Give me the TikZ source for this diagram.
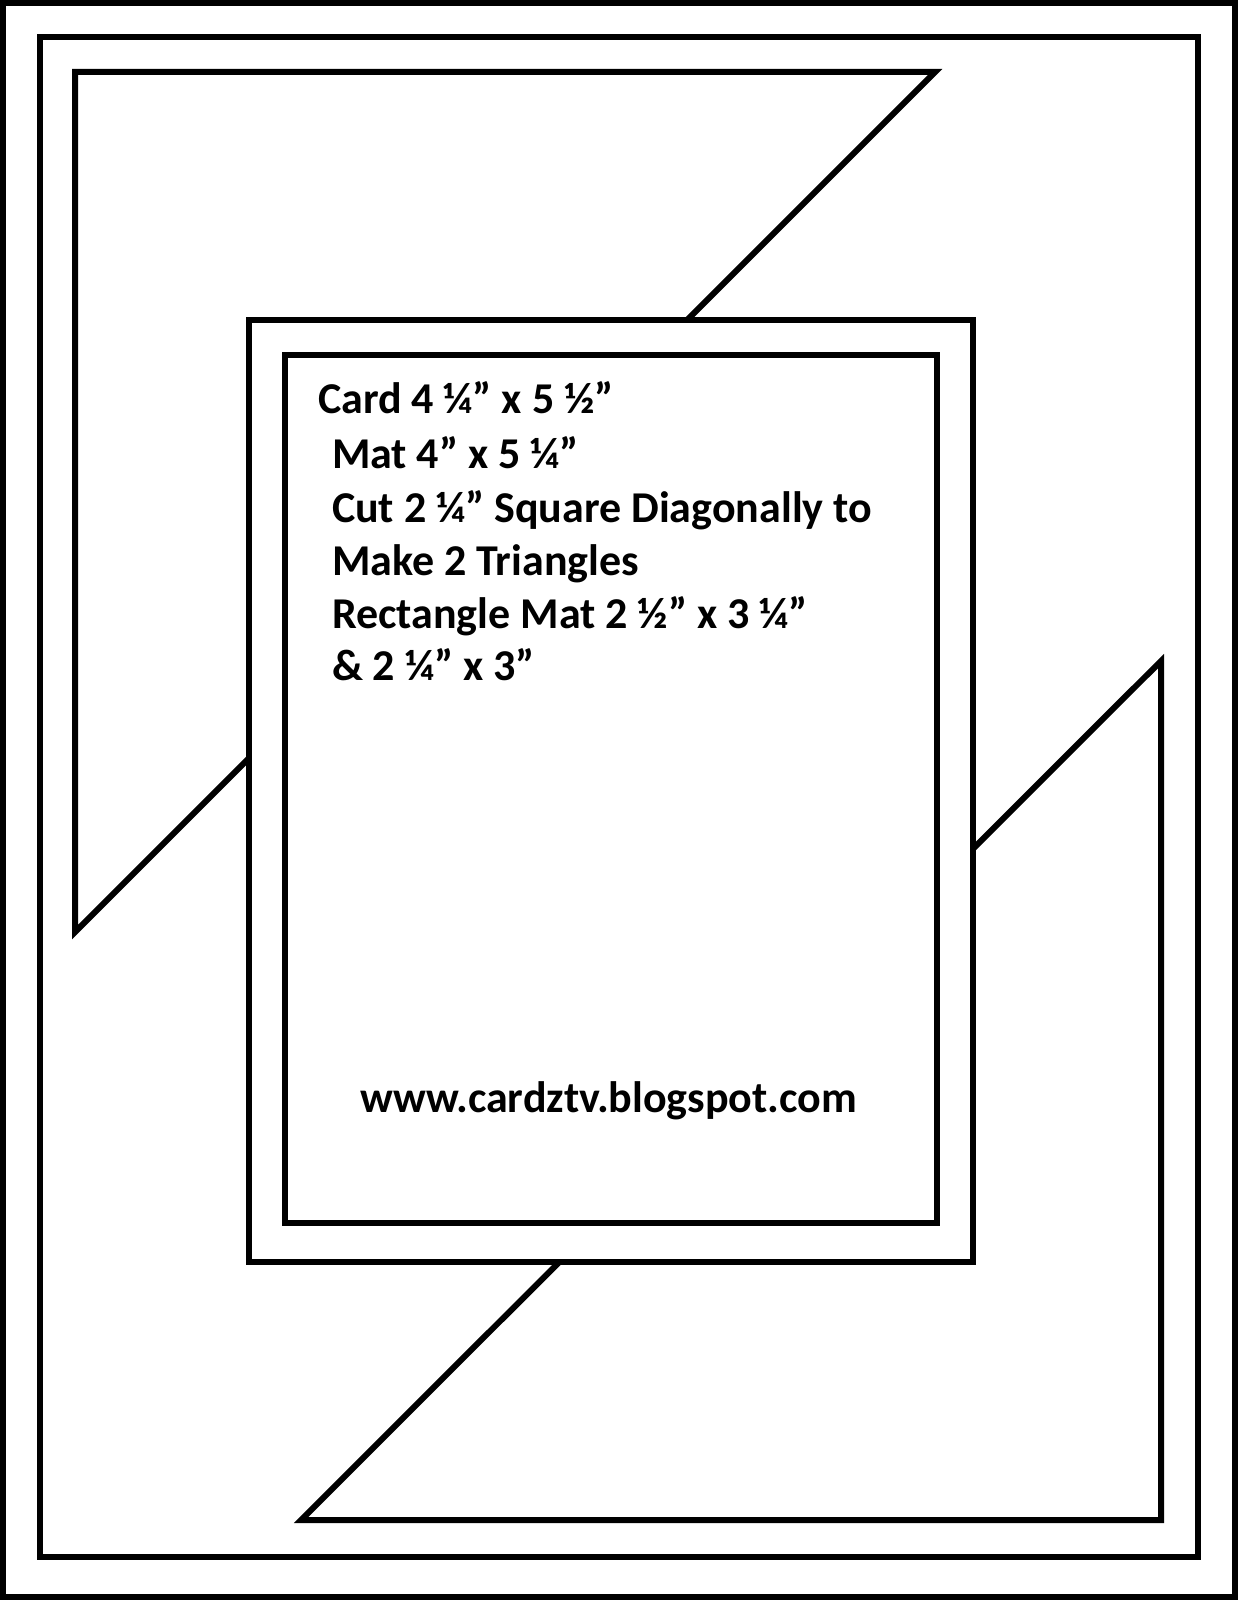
\documentclass[tikz,border=0pt]{standalone}
\usepackage{fontspec}
\setmainfont{Carlito}
\usetikzlibrary{positioning}

\begin{document}
\begin{tikzpicture}[x=1pt,y=-1pt,line width=6pt,
  cardtext/.style={anchor=base west,inner sep=0pt,font=\fontsize{44}{52}\selectfont\bfseries}]
  \useasboundingbox (0,0) rectangle (1238,1600);
  % card and base layer
  \draw (3,3) rectangle (1235,1597);
  \draw (40,37) rectangle (1198,1557);
  % the two triangles
  \draw (75,72) -- (935,72) -- (75,932) -- cycle;
  \draw (1161,661) -- (1161,1520) -- (301,1520) -- cycle;
  % rectangle mats
  \draw[fill=white] (249,320) rectangle (973,1262);
  \draw (285,355) rectangle (937,1223);
  \node[cardtext] (card) at (315,413) {Card 4 ¼” x 5 ½”};
  \node[cardtext] (mat) at (329,468) {Mat 4” x 5 ¼”};
  \node[cardtext] (cut) at (329,522) {Cut 2 ¼” Square Diagonally to};
  \node[cardtext] (make) at (329,575) {Make 2 Triangles};
  \node[cardtext] (rect) at (329,628) {Rectangle Mat 2 ½” x 3 ¼”};
  \node[cardtext] (amp) at (329,680) {\& 2 ¼” x 3”};
  \node[cardtext] (web) at (357,1112) {www.cardztv.blogspot.com};
\end{tikzpicture}
\end{document}
